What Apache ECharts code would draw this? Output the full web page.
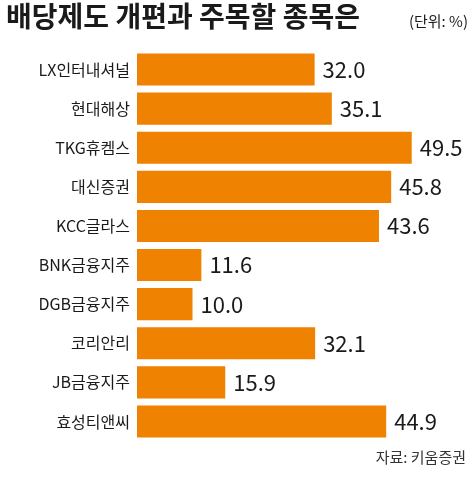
<!DOCTYPE html><html><head><meta charset="utf-8"><script src="https://cdn.jsdelivr.net/npm/echarts@6/dist/echarts.min.js"></script></head><body style="margin:0;background:#fff"><div id="c" style="width:474px;height:478px"></div><script>
const categories=['LX인터내셔널','현대해상','TKG휴켐스','대신증권','KCC글라스','BNK금융지주','DGB금융지주','코리안리','JB금융지주','효성티앤씨'];
const values=[32.0,35.1,49.5,45.8,43.6,11.6,10.0,32.1,15.9,44.9];
const F='"Noto Sans CJK KR", sans-serif';
const ch=echarts.init(document.getElementById('c'));
ch.setOption({animation:false,
graphic:[{type:'text',left:6,top:2,style:{text:'배당제도 개편과 주목할 종목은',font:'bold 28px '+F,fill:'#1a1a1a'}},
{type:'text',right:6,top:14,style:{text:'(단위: %)',font:'15px '+F,fill:'#1a1a1a'}},
{type:'text',right:8,top:450,style:{text:'자료: 키움증권',font:'15px '+F,fill:'#333'}}],
grid:{left:137,right:4,top:50,bottom:37},
xAxis:{type:'value',min:0,max:60,show:false},
yAxis:{type:'category',data:categories,inverse:true,axisLine:{show:false},axisTick:{show:false},axisLabel:{fontFamily:F,fontSize:16,color:'#1a1a1a',margin:7}},
series:[{type:'bar',data:values,barCategoryGap:'18%',itemStyle:{color:'#ef8200'},label:{show:true,position:'right',distance:8,formatter:p=>p.value.toFixed(1),fontFamily:F,fontSize:22,color:'#1a1a1a'}}]});
</script></body></html>
